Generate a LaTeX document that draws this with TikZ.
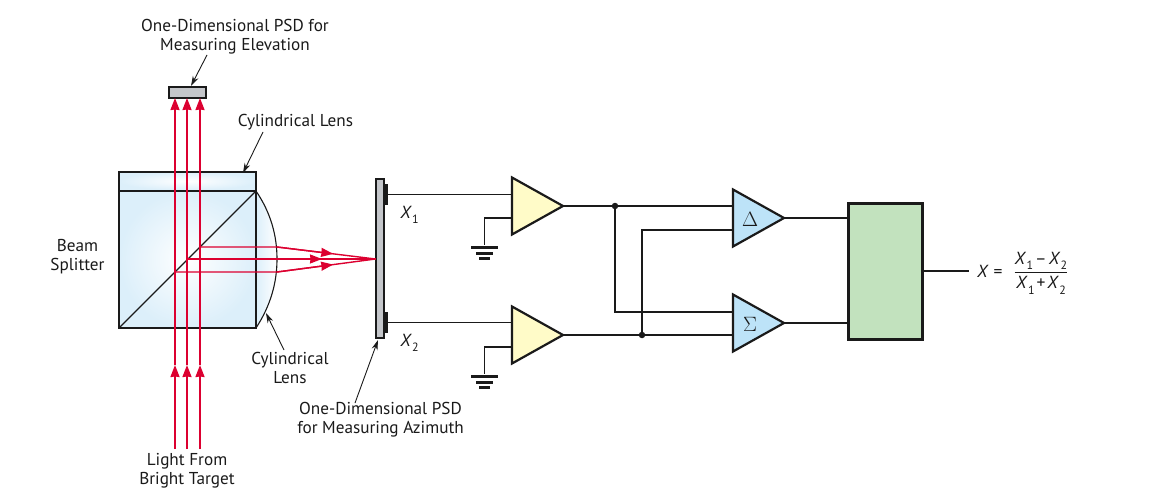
\documentclass[tikz,border=0pt]{standalone}
\usepackage{fontspec}
\setmainfont{PT Sans}
\usetikzlibrary{arrows.meta,shapes.geometric,calc}
\definecolor{raycol}{HTML}{DC0030}
\definecolor{inkc}{HTML}{1A1A1A}
\definecolor{psdgray}{HTML}{C4C6CA}
\definecolor{ampy}{HTML}{FFFBC8}
\definecolor{ampb}{HTML}{BDE3F8}
\definecolor{procg}{HTML}{C2E2BE}
\definecolor{glassb}{HTML}{DCEFFA}
\newcommand{\Xs}[1]{\textit{X}\kern.3pt\raisebox{-.3em}{\fontsize{12}{12}\selectfont #1}}
\tikzset{
  x=1pt,y=-1pt,
  lbl/.style={font=\fontsize{17.2}{19}\selectfont,align=center,text=inkc,inner sep=0pt},
  sym/.style={font=\fontsize{17.5}{19}\selectfont,text=inkc,inner sep=0pt},
  amp/.style={draw=inkc,line width=2.2pt,isosceles triangle,isosceles triangle stretches,shape border rotate=0,minimum height=51pt,minimum width=57pt,inner sep=0pt,outer sep=0pt,anchor=lower side},
  wire/.style={draw=inkc,line width=1.6pt},
  outl/.style={draw=inkc,line width=1.7pt},
  lead/.style={draw=inkc,line width=.9pt,-{Stealth[length=10pt,width=6pt]}},
  ray/.style={draw=raycol,line width=1.8pt},
  rayh/.style={draw=raycol,line width=1.4pt},
  rtip/.style={-{Stealth[length=12pt,width=9pt,inset=.5pt]}},
  dot/.style={circle,fill=inkc,minimum size=6.5pt,inner sep=0pt},
  gbar/.style={draw=none,fill=inkc,inner sep=0pt,minimum height=3pt},
  psd/.style={draw=inkc,fill=psdgray,line width=1.4pt,inner sep=0pt,outer sep=0pt},
  contact/.style={draw=none,fill=inkc,inner sep=0pt,outer sep=0pt,minimum width=4pt,minimum height=21pt}
}
\begin{document}
\begin{tikzpicture}
\useasboundingbox (0,0) rectangle (1158,500);
% glass
\coordinate (cTL) at (119,191); \coordinate (cTR) at (256,191);
\coordinate (cBL) at (119,328); \coordinate (cBR) at (256,328);
\coordinate (sTL) at (119,172); \coordinate (sTR) at (256,172);
\shade[inner color=white,outer color=glassb] (sTL) rectangle (256,190);
\shade[inner color=white,outer color=glassb] (cTL) rectangle (cBR);
\shade[left color=glassb,right color=white] (cTR) .. controls (271,213) and (277,236) .. (277,259) .. controls (277,282) and (271,305) .. (cBR) -- cycle;
\draw[outl] (sTL) rectangle (cTR);
\draw[outl] (cTL) rectangle (cBR);
\draw[draw=inkc,line width=1.1pt] (cBL) -- (cTR);
\draw[draw=inkc,line width=1.1pt] (cTR) .. controls (271,213) and (277,236) .. (277,259) .. controls (277,282) and (271,305) .. (cBR);
% PSDs
\node[psd,minimum width=37pt,minimum height=11pt] (psdE) at (187.5,92.5) {};
\node[psd,minimum width=8pt,minimum height=159pt] (psdA) at (380,258.5) {};
\node[contact] (ctA) at (386,194.5) {};
\node[contact] (ctB) at (386,322.5) {};
% rays
\coordinate (f) at (375.5,259);
\foreach \n/\xx in {ra/175,rb/187,rc/200}{
  \coordinate (\n0) at (\xx,449);
  \coordinate (\n1) at (\xx,365);
  \draw[ray,rtip] (\n0) -- (\n1);
  \draw[ray,rtip] (\n1) -- (\n1 |- psdE.south);
}
\coordinate (h1s) at (200,247); \coordinate (h1l) at (277,247);
\coordinate (h2s) at (187,259); 
\coordinate (h3s) at (175,272); \coordinate (h3l) at (277,272);
\draw[rayh] (h1s) -- (h1l) -- (f);
\draw[rayh] (h3s) -- (h3l) -- (f);
\draw[rayh,line width=1.8pt] (h2s) -- (f);
\draw[rayh,rtip] (h1l) -- ($(h1l)!.57!(f)$);
\draw[rayh,rtip] (h3l) -- ($(h3l)!.57!(f)$);
\draw[rayh,rtip] (h2s) -- (322,259);
% amplifiers
\node[amp,fill=ampy] (a1) at (512,206) {};
\node[amp,fill=ampy] (a2) at (512,335) {};
\node[amp,fill=ampb] (dl) at (733,218) {};
\node[amp,fill=ampb] (sg) at (733,323) {};
\node[draw=inkc,fill=procg,line width=3pt,minimum width=74pt,minimum height=136pt,inner sep=0pt,outer sep=0pt] (proc) at (885.5,271) {};
\node[sym,font=\fontsize{21}{22}\selectfont] (dsym) at (750,219) {$\Delta$};
\node[sym,font=\fontsize{21}{22}\selectfont] (ssym) at (750,324) {$\Sigma$};
% wires
\draw[wire] (ctA.east) -- (ctA.east -| a1.lower side);
\draw[wire] (ctB.east) -- (ctB.east -| a2.lower side);
\node[dot] (j1) at (615,206) {};
\node[dot] (j2) at (642,335) {};
\coordinate (d1) at (733,206); \coordinate (d2) at (733,230);
\coordinate (s1) at (733,312); \coordinate (s2) at (733,335);
\draw[wire] (a1.apex) -- (d1);
\draw[wire] (a2.apex) -- (s2);
\draw[wire] (j1) |- (s1);
\draw[wire] (j2) |- (d2);
\draw[wire] (dl.apex) -- (dl.apex -| proc.west);
\draw[wire] (sg.apex) -- (sg.apex -| proc.west);
\coordinate (outE) at (969,271);
\draw[wire] (proc.east) -- (outE);
% grounds
\foreach \n/\yy/\gy in {ga/218/247,gb/347/376}{
  \coordinate (\n in) at (512,\yy);
  \node[gbar,minimum width=27pt] (\n g1) at (484.5,\gy) {};
  \node[gbar,minimum width=17pt] (\n g2) at (484.5,\gy+6) {};
  \node[gbar,minimum width=11pt] (\n g3) at (484.5,\gy+11.5) {};
  \draw[wire] (\n in) -| (\n g1.north);
}
% labels
\node[lbl] (t1) at (235,36.5) {One-Dimensional PSD for\\Measuring Elevation};
\node[lbl] (t2) at (295.5,122.5) {Cylindrical Lens};
\node[lbl] (t3) at (77.5,256.5) {Beam\\Splitter};
\node[lbl] (t4) at (290,367.5) {Cylindrical\\Lens};
\node[lbl] (t5) at (380.5,419.5) {One-Dimensional PSD\\for Measuring Azimuth};
\node[lbl] (t6) at (187,470.5) {Light From\\Bright Target};
\node[sym] (x1) at (409.5,215) {\Xs{1}};
\node[sym] (x2) at (409.5,343) {\Xs{2}};
% formula
\node[sym,anchor=west] (xeq) at (977,271.5) {\textit{X} =};
\node[sym] (frac) at (1041,273) {$\displaystyle{\hbox{\Xs{1}\kern2pt –\kern2pt\Xs{2}}\above 1pt\hbox{\Xs{1}\kern2pt +\kern2pt\Xs{2}}}$};
% leaders
\coordinate (l1) at (207,55); \coordinate (l1e) at (191,86);
\coordinate (l2) at (263,132); \coordinate (l2e) at (243,173);
\coordinate (l3) at (284,350); \coordinate (l3e) at (266,313);
\coordinate (l4) at (355,403); \coordinate (l4e) at (378,340);
\draw[lead] (l1) -- (l1e);
\draw[lead] (l2) -- (l2e);
\draw[lead] (l3) -- (l3e);
\draw[lead] (l4) -- (l4e);
\end{tikzpicture}
\end{document}
